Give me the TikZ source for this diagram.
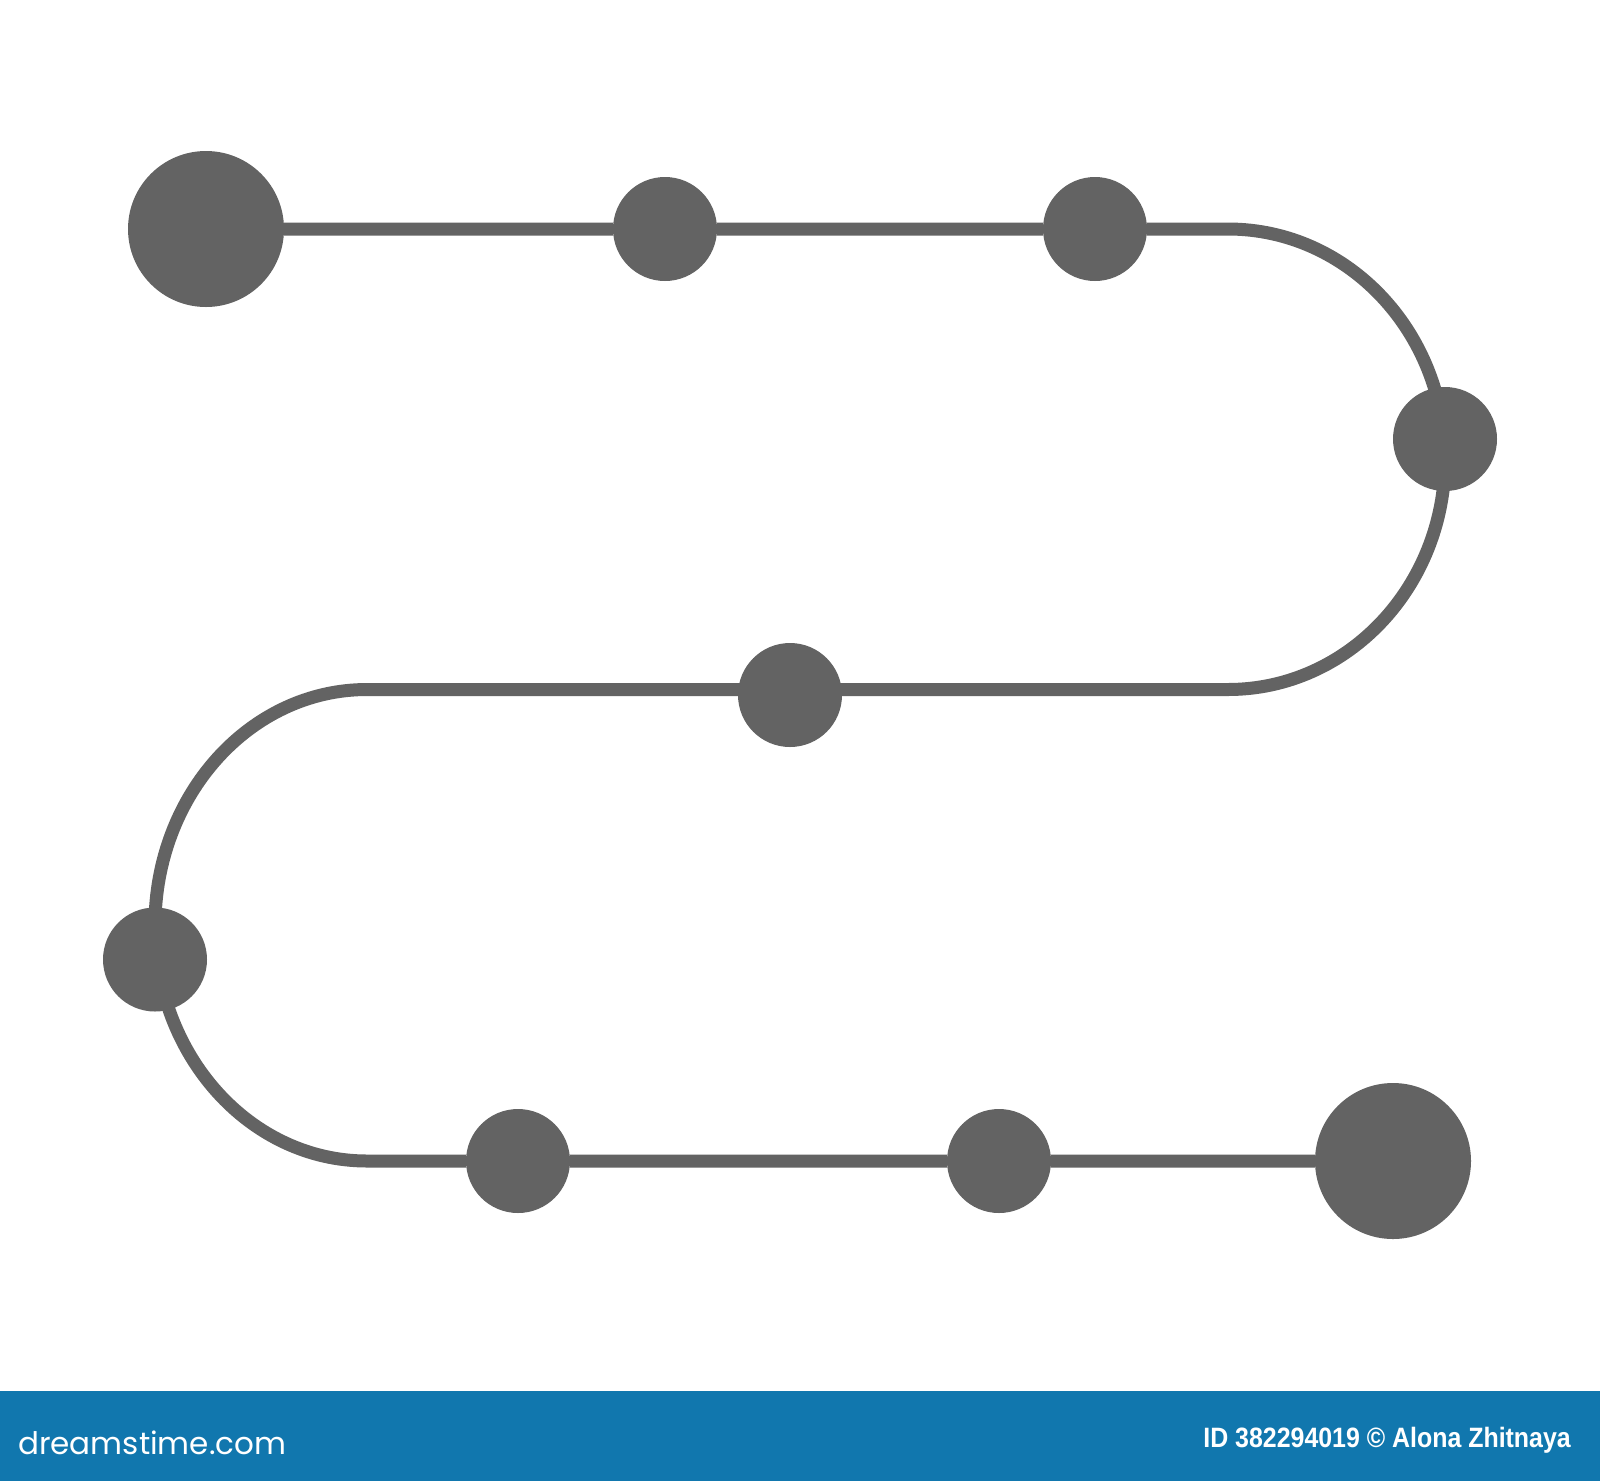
\documentclass[tikz,border=0pt]{standalone}
\usepackage{fontspec}
\setmainfont{Liberation Sans}
\newfontfamily\logofont{Poppins}
\usetikzlibrary{backgrounds}
\definecolor{trackgray}{RGB}{99,99,99}
\definecolor{barblue}{RGB}{17,119,174}
\tikzset{
  dot/.style={circle,fill=trackgray,inner sep=0pt,minimum size=104pt},
  bigdot/.style={dot,minimum size=156pt},
  track/.style={draw=trackgray,line width=13pt}
}
\begin{document}
\begin{tikzpicture}[x=1pt,y=-1pt]
  \useasboundingbox (0,0) rectangle (1600,1481);
  \node[bigdot] (s) at (206,229) {};
  \node[dot] (a1) at (665,229) {};
  \node[dot] (a2) at (1095,229) {};
  \coordinate (tr) at (1228,229);
  \node[dot] (r) at (1445,439) {};
  \node[dot] (m) at (790,695) {};
  \coordinate (ml) at (367,689.5);
  \node[dot] (l) at (155,959.5) {};
  \node[dot] (b1) at (518,1161) {};
  \node[dot] (b2) at (999,1161) {};
  \node[bigdot] (e) at (1393,1161) {};
  \begin{scope}[on background layer]
    \fill[white] (0,0) rectangle (1600,1481);
    \draw[track] (s) -- (a1) -- (a2) -- (tr)
      arc[start angle=-90,end angle=90,x radius=217,y radius=230.25] -- (ml)
      arc[start angle=-90,end angle=-270,x radius=212,y radius=235.75] -- (b1) -- (b2) -- (e);
  \end{scope}
  \fill[barblue] (0,1391) rectangle (1600,1481);
  \node[anchor=base west,text=white,inner sep=0pt,font=\logofont\fontsize{31}{31}\selectfont] (logo) at (18,1454) {dreamstime.com};
  \node[anchor=base east,text=white,inner sep=0pt,font=\bfseries\fontsize{28}{28}\selectfont] (credit) at (1571,1447) {\scalebox{0.89}[1]{ID 382294019 © Alona Zhitnaya}};
\end{tikzpicture}
\end{document}
